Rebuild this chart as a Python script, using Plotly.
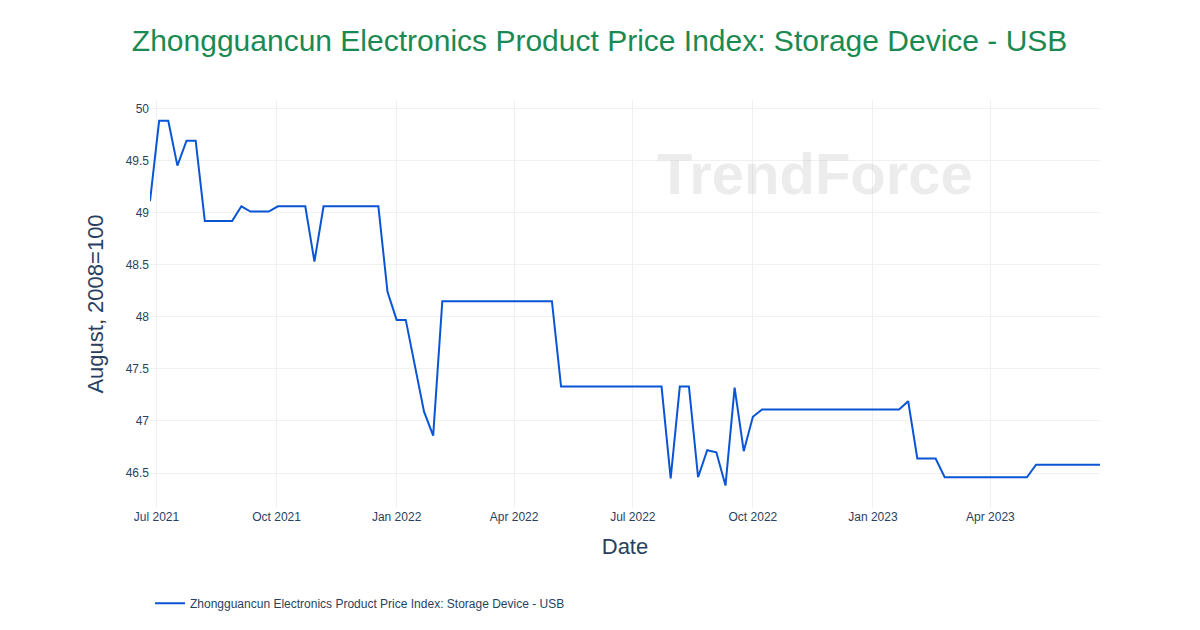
import plotly.graph_objects as go
import pandas as pd

values = [49.11, 49.88, 49.88, 49.45, 49.69, 49.69, 48.92, 48.92, 48.92, 48.92,
          49.06, 49.01, 49.01, 49.01, 49.06, 49.06, 49.06, 49.06, 48.53, 49.06,
          49.06, 49.06, 49.06, 49.06, 49.06, 49.06, 48.24, 47.97, 47.97, 47.54,
          47.09, 46.86] + [48.15] * 13 + [47.33] * 12 + [46.45, 47.33, 47.33, 46.46, 46.72, 46.70, 46.38, 47.32, 46.71, 47.04] \
         + [47.11] * 16 + [47.19, 46.64, 46.64, 46.64] + [46.46] * 10 + [46.58] * 8
dates = pd.date_range("2021-06-26", periods=len(values), freq="7D")
name = "Zhongguancun Electronics Product Price Index: Storage Device - USB"

fig = go.Figure(go.Scatter(x=dates, y=values, mode="lines", name=name,
                           line=dict(color="#0a55d6", width=2)))
fig.add_annotation(text="<b>TrendForce</b>", xref="paper", yref="paper", x=0.70, y=0.82,
                   xanchor="center", yanchor="middle",
                   showarrow=False, font=dict(size=58, color="rgba(180,180,180,0.25)", family="Arial"))
fig.update_layout(
    width=1200, height=630, template="plotly_white",
    font=dict(family="Arial", color="#2a3f5f"),
    title=dict(text=name, x=0.493, y=0.965, font=dict(size=30, color="#1a8a52")),
    margin=dict(l=142, r=108, t=92, b=130, autoexpand=False),
    xaxis=dict(title=dict(text="Date", font=dict(size=22)), range=[dates[0], dates[-1]],
               tickformat="%b %Y", dtick="M3", tick0="2021-07-01", tickfont=dict(size=12),
               gridcolor="#f0f0f0"),
    yaxis=dict(title=dict(text="August, 2008=100", font=dict(size=22)), range=[46.165, 50.08],
               dtick=0.5, tickfont=dict(size=12), gridcolor="#f0f0f0"),
    showlegend=True,
    legend=dict(orientation="h", x=0.0, xanchor="left", y=-0.198, yanchor="top", font=dict(size=12)),
)
fig.write_html("out.html")
